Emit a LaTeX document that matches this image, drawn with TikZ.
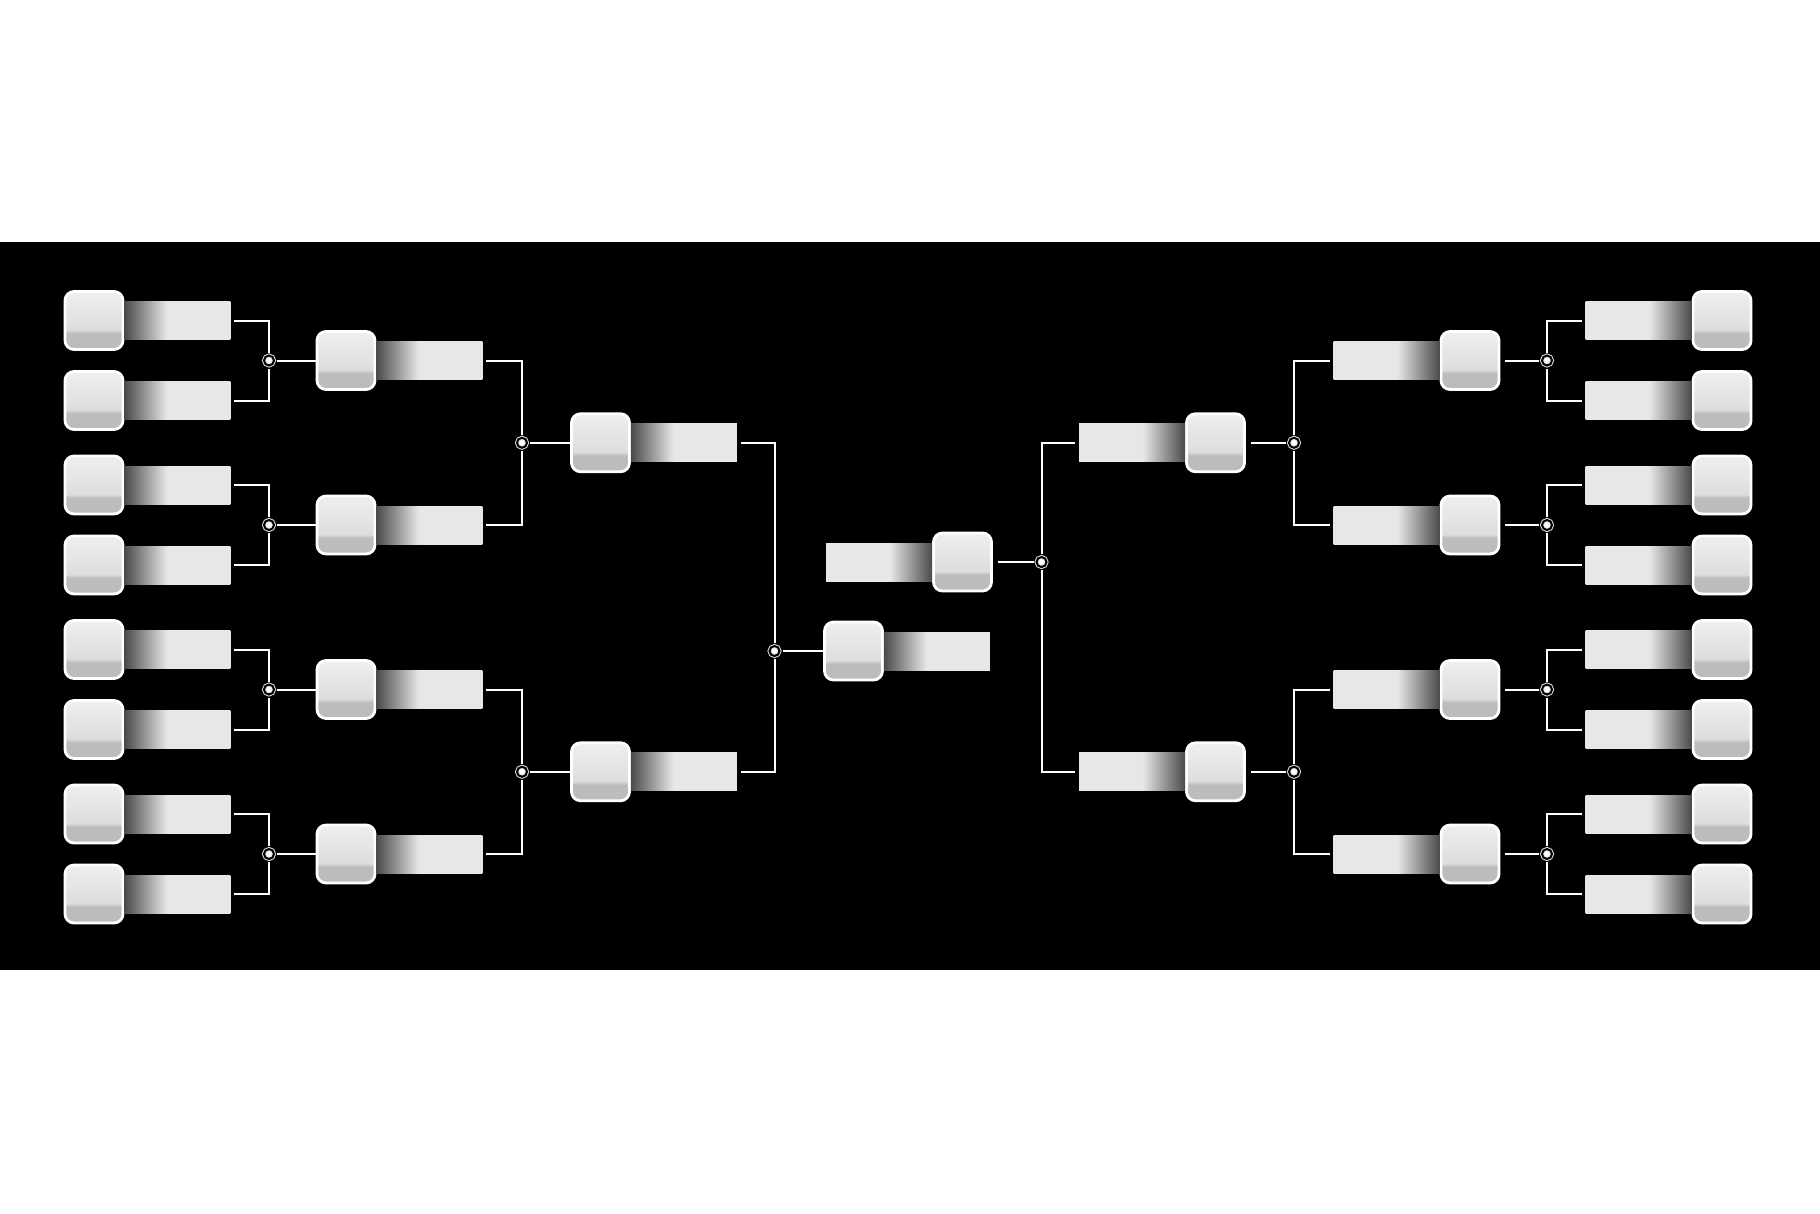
\documentclass[tikz,border=0pt]{standalone}
\usetikzlibrary{positioning}

\definecolor{slotgrey}{HTML}{E6E7E8}
\definecolor{slotdark}{HTML}{4A4A4A}
\definecolor{tiletop}{HTML}{EFEFEF}
\definecolor{tilemid}{HTML}{DDDDDD}
\definecolor{tilelow}{HTML}{BCBCBC}
\definecolor{ringgrey}{HTML}{E0E0E0}

\pgfdeclareverticalshading{tileshade}{100bp}{color(0bp)=(tilelow); color(25bp)=(tilelow); color(39bp)=(tilelow); color(42bp)=(tilemid); color(75bp)=(tiletop); color(100bp)=(tiletop)}
\pgfdeclarehorizontalshading{slotleft}{100bp}{color(0bp)=(slotdark); color(25bp)=(slotdark); color(45bp)=(slotgrey); color(100bp)=(slotgrey)}
\pgfdeclarehorizontalshading{slotright}{100bp}{color(0bp)=(slotgrey); color(55bp)=(slotgrey); color(75bp)=(slotdark); color(100bp)=(slotdark)}

\tikzset{
    tile/.style={rectangle, rounded corners=0.9mm, minimum size=5.8mm, inner sep=0pt,
        draw=white, line width=0.28mm, shading=tileshade},
    slot/.style={rectangle, minimum width=10.6mm, minimum height=3.8mm, inner sep=0pt,
        outer sep=0pt, shading=slotleft},
    slotR/.style={slot, shading=slotright},
    hub/.style={circle, minimum size=1mm, inner sep=0pt, outer sep=0.3mm, fill=white,
        draw=ringgrey, double=black, line width=0.1mm, double distance=0.2mm},
    wire/.style={draw=white, line width=0.2mm}
}

\begin{document}
\begin{tikzpicture}[x=0.1mm, y=-0.1mm]
\useasboundingbox (0,0) rectangle (1820,1213);
\fill[black] (0,242) rectangle (1820,970);

% Seeds, both halves
\foreach \i/\y in {1/320.5, 2/400.5, 3/485, 4/565, 5/649.5, 6/729.5, 7/814, 8/894}{
    \node[tile] (seed_l\i) at (94,\y) {};
    \node[slot, right=0pt of seed_l\i] (seedbar_l\i) {};
    \node[tile] (seed_r\i) at (1722,\y) {};
    \node[slotR, left=0pt of seed_r\i] (seedbar_r\i) {};
}

% Quarter finals
\foreach \j/\a/\b/\y in {1/1/2/360.5, 2/3/4/525, 3/5/6/689.5, 4/7/8/854}{
    \node[hub] (hub_l\j) at (269,\y) {};
    \node[tile] (quarter_l\j) at (346,\y) {};
    \node[slot, right=0pt of quarter_l\j] (quarterbar_l\j) {};
    \node[hub] (hub_r\j) at (1547,\y) {};
    \node[tile] (quarter_r\j) at (1470,\y) {};
    \node[slotR, left=0pt of quarter_r\j] (quarterbar_r\j) {};
    \draw[wire]
        ([xshift=0.4mm]seedbar_l\a.east) -| (hub_l\j)
        ([xshift=0.4mm]seedbar_l\b.east) -| (hub_l\j)
        ([xshift=-0.4mm]seedbar_r\a.west) -| (hub_r\j)
        ([xshift=-0.4mm]seedbar_r\b.west) -| (hub_r\j);
    \draw[wire, shorten >=0.5mm]
        (hub_l\j) -- (quarter_l\j)
        (hub_r\j) -- (quarter_r\j);
}

% Semi finals
\foreach \k/\a/\b/\y in {1/1/2/442.75, 2/3/4/771.75}{
    \node[hub] (qhub_l\k) at (522,\y) {};
    \node[tile] (semi_l\k) at (600.5,\y) {};
    \node[slot, right=0pt of semi_l\k] (semibar_l\k) {};
    \node[hub] (qhub_r\k) at (1294,\y) {};
    \node[tile] (semi_r\k) at (1215.5,\y) {};
    \node[slotR, left=0pt of semi_r\k] (semibar_r\k) {};
    \draw[wire]
        ([xshift=0.4mm]quarterbar_l\a.east) -| (qhub_l\k)
        ([xshift=0.4mm]quarterbar_l\b.east) -| (qhub_l\k)
        ([xshift=-0.4mm]quarterbar_r\a.west) -| (qhub_r\k)
        ([xshift=-0.4mm]quarterbar_r\b.west) -| (qhub_r\k);
    \draw[wire, shorten >=0.5mm]
        (qhub_l\k) -- (semi_l\k)
        (qhub_r\k) -- (semi_r\k);
}

% Final
\node[hub] (shub_l) at (774.5,651) {};
\node[tile] (final_l) at (853.5,651) {};
\node[slot, right=0pt of final_l] (finalbar_l) {};
\node[hub] (shub_r) at (1041.5,562) {};
\node[tile] (final_r) at (962.5,562) {};
\node[slotR, left=0pt of final_r] (finalbar_r) {};
\draw[wire]
    ([xshift=0.4mm]semibar_l1.east) -| (shub_l)
    ([xshift=0.4mm]semibar_l2.east) -| (shub_l)
    ([xshift=-0.4mm]semibar_r1.west) -| (shub_r)
    ([xshift=-0.4mm]semibar_r2.west) -| (shub_r);
\draw[wire, shorten >=0.5mm]
    (shub_l) -- (final_l)
    (shub_r) -- (final_r);
\end{tikzpicture}
\end{document}
